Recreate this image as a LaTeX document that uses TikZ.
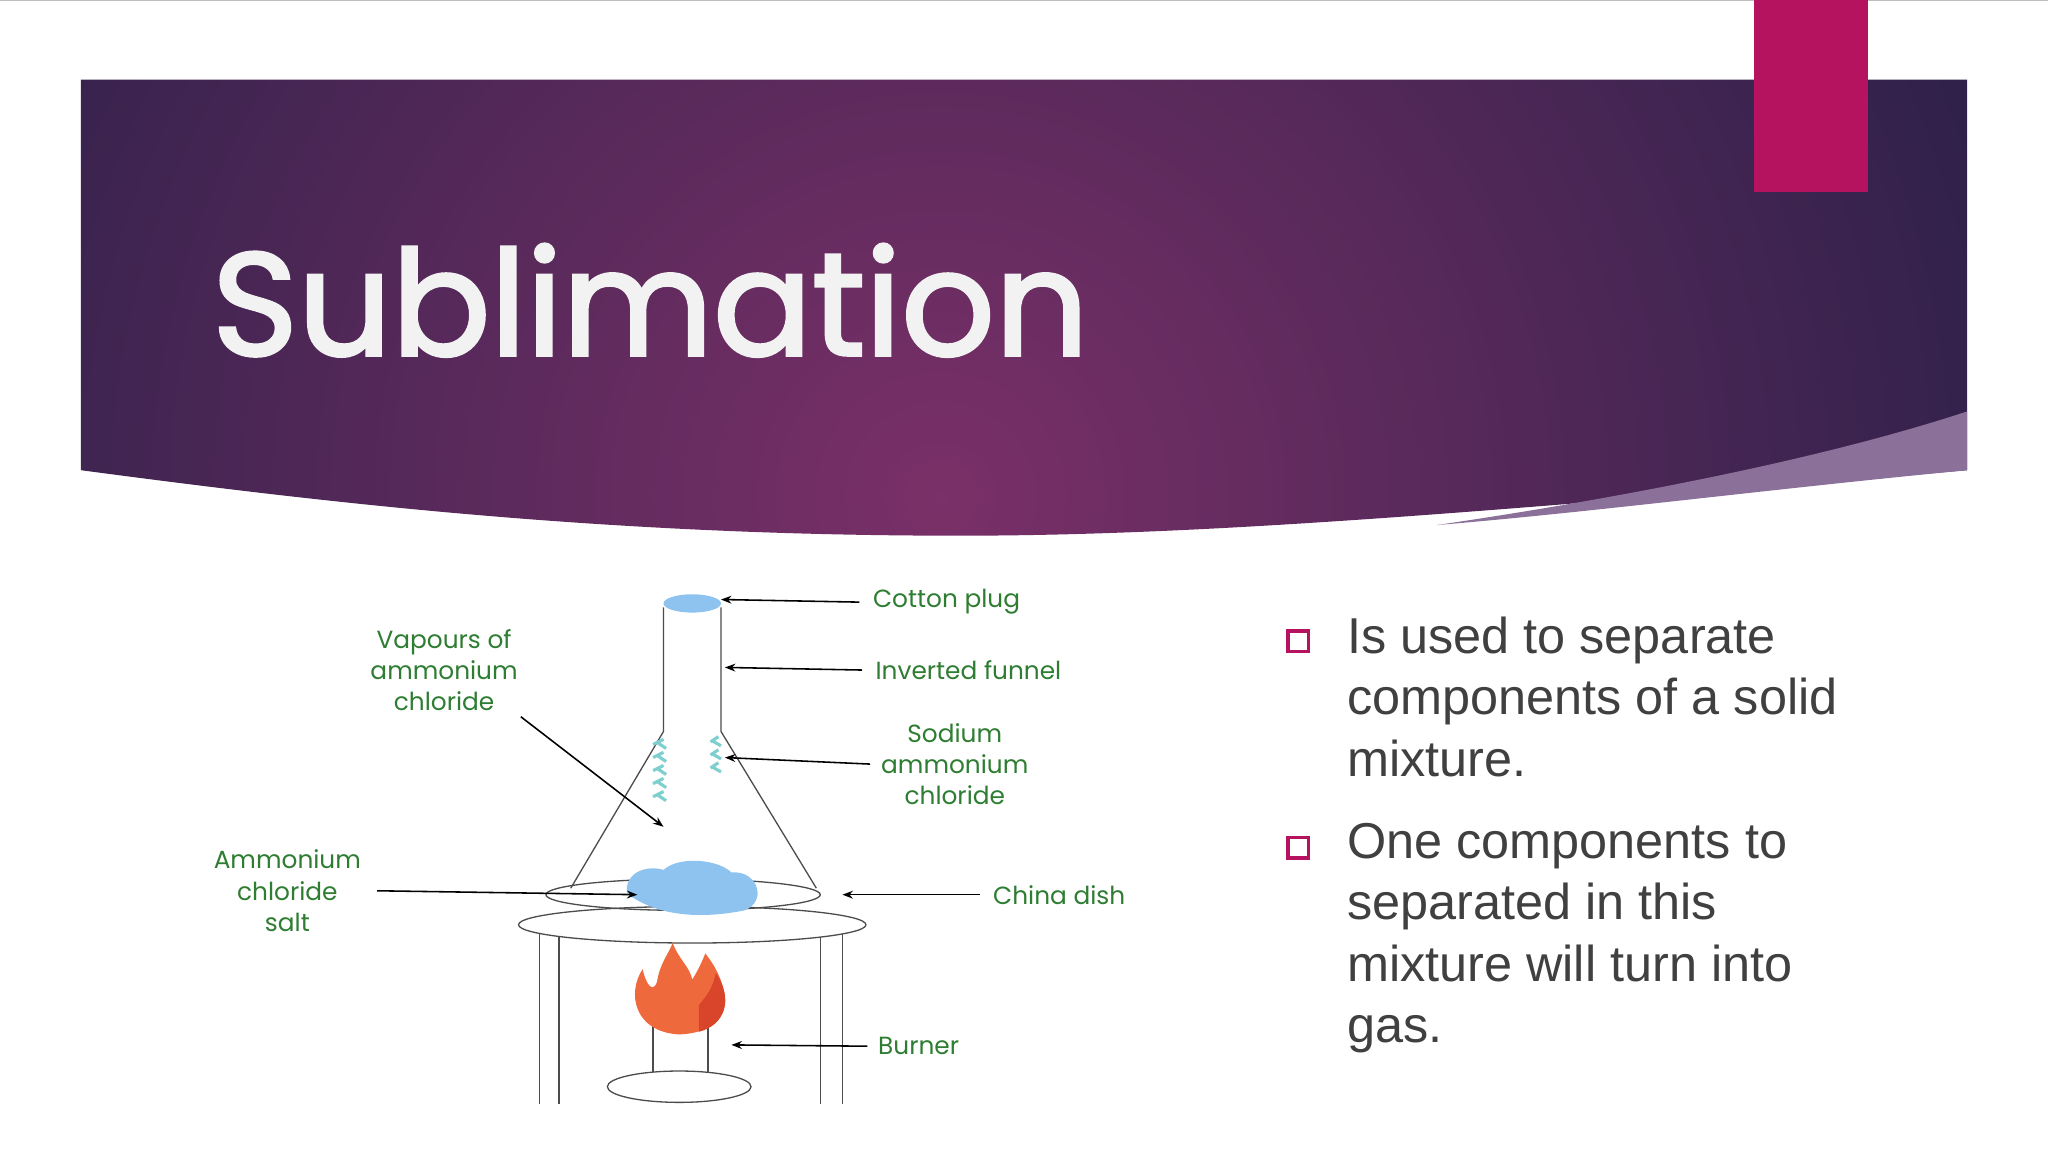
\documentclass[tikz,border=0pt]{standalone}
\usepackage{fontspec}
\setmainfont{Liberation Sans}
\newfontfamily\titlefont{Poppins}
\usetikzlibrary{arrows.meta,shapes.geometric}
\AtBeginDocument{\hyphenpenalty=10000 \exhyphenpenalty=10000 }
\definecolor{lbl}{HTML}{2E7D32}
\definecolor{pinktab}{HTML}{B5135F}
\definecolor{txt}{HTML}{404040}
\definecolor{icy}{HTML}{8EC3F0}
\definecolor{bi}{HTML}{7A3068}
\definecolor{bo}{HTML}{2A2048}
\definecolor{strip}{HTML}{8B7099}
\definecolor{fl}{HTML}{EE6A3C}
\definecolor{fl2}{HTML}{D9452A}
\definecolor{tuft}{HTML}{7FCFCF}
\tikzset{
 lab/.style={text=lbl,font=\titlefont\fontsize{9.5}{12}\selectfont,align=center,inner sep=0pt},
 ptr/.style={-{Stealth[length=4pt,width=3pt]},line width=0.6pt,black},
 app/.style={line width=0.5pt,draw=black!70},
 bul/.style={text=txt,font=\fontsize{19.3}{23.5}\selectfont,align=flush left,anchor=north west,inner sep=0pt,text width=198pt},
 box/.style={draw=pinktab,line width=1.3pt,minimum size=8pt,inner sep=0pt}
}
\begin{document}
\begin{tikzpicture}[x=0.5pt,y=-0.5pt]
\useasboundingbox (0,0) rectangle (1568,882);
\fill[white] (0,0) rectangle (1568,882);
\draw[black!25,line width=0.6pt] (0,0.5) -- (1568,0.5);
% banner
\begin{scope}
\clip (62,61) -- (1506,61) -- (1506,360) .. controls (1100,395) and (900,412) .. (700,410) .. controls (450,408) and (250,385) .. (62,360) -- cycle;
\shade[inner color=bi,outer color=bo] (720,380) circle (900);
\end{scope}
\fill[strip] (1506,315) -- (1506,360) .. controls (1350,375) and (1220,392) .. (1100,402) .. controls (1250,380) and (1400,350) .. (1506,315) -- cycle;
\fill[pinktab] (1343,0) rectangle (1430,147);
\node[anchor=base west,text=white!95!black,inner sep=0pt,font=\titlefont\fontsize{56}{64}\selectfont] (title) at (162,272) {\special{pdf:literal 2 Tr 1.2 w}Sublimation\special{pdf:literal 0 Tr}};
% bullets
\node[box] (b1) at (994,491) {};
\node[bul] (t1) at (1031,472) {Is used to separate components of a solid mixture.};
\node[box] (b2) at (994,649) {};
\node[bul] (t2) at (1031,630) {One components to separated in this mixture will turn into gas.};
% apparatus
\draw[app] (413,712) -- (413,845) (428,716) -- (428,845) (628,716) -- (628,845) (645,712) -- (645,845);
\draw[app,fill=white] (530,708) ellipse (133 and 14);
\draw[app] (500,785) -- (500,822) (542,785) -- (542,822);
\draw[app,fill=white] (520,832) ellipse (55 and 12);
\fill[fl] (520,792) .. controls (485,790) and (480,760) .. (492,742) .. controls (495,755) and (500,760) .. (503,752) .. controls (505,738) and (512,730) .. (515,722) .. controls (520,735) and (528,740) .. (530,750) .. controls (535,742) and (538,735) .. (540,730) .. controls (560,755) and (565,790) .. (520,792) -- cycle;
\fill[fl2] (535,790) .. controls (555,785) and (562,765) .. (548,745) .. controls (545,760) and (538,765) .. (535,770) -- cycle;
% funnel
\draw[app] (508,465) -- (508,560) -- (437,680) (552,465) -- (552,560) -- (625,680);
\draw[app] (523,685) ellipse (105 and 12);
\fill[icy] (530,462) ellipse (22 and 7);
\fill[icy] (480,684) .. controls (478,668) and (495,662) .. (508,666) .. controls (520,655) and (550,658) .. (560,668) .. controls (580,666) and (588,690) .. (570,697) .. controls (540,703) and (505,703) .. (480,684) -- cycle;
\foreach \yy in {566,576,586,596,606}{
  \draw[tuft,line width=1.2pt] (508,\yy) -- +(-8,4) (504,\yy+3) -- +(6,4);}
\foreach \yy in {564,574,584}{
  \draw[tuft,line width=1.2pt] (550,\yy) -- +(-6,4) (545,\yy+3) -- +(7,4);}
% coordinates
\coordinate (cpA) at (552,459);
\coordinate (ifA) at (555,511);
\coordinate (saA) at (555,580);
\coordinate (vaA) at (508,633);
\coordinate (acA) at (488,685);
\coordinate (cdA) at (645,685);
\coordinate (buA) at (560,800);
% labels
\node[lab,anchor=west] (cp) at (668,461) {Cotton plug};
\node[lab,anchor=west] (inf) at (670,513) {Inverted funnel};
\node[lab] (sa) at (731,585) {Sodium\\ammonium\\chloride};
\node[lab] (va) at (340,513) {Vapours of\\ammonium\\chloride};
\node[lab] (ac) at (220,682) {Ammonium\\chloride\\salt};
\node[lab,anchor=west] (cd) at (760,685) {China dish};
\node[lab,anchor=west] (bu) at (672,801) {Burner};
\draw[ptr] ([xshift=-5pt]cp.west) -- (cpA);
\draw[ptr] ([xshift=-5pt]inf.west) -- (ifA);
\draw[ptr] ([xshift=-4pt]sa.west) -- (saA);
\draw[ptr] ([shift={(1pt,-2pt)}]va.south east) -- (vaA);
\draw[ptr] ([xshift=6pt]ac.east) -- (acA);
\draw[ptr] ([xshift=-5pt]cd.west) -- (cdA);
\draw[ptr] ([xshift=-4pt]bu.west) -- (buA);
\end{tikzpicture}
\end{document}
